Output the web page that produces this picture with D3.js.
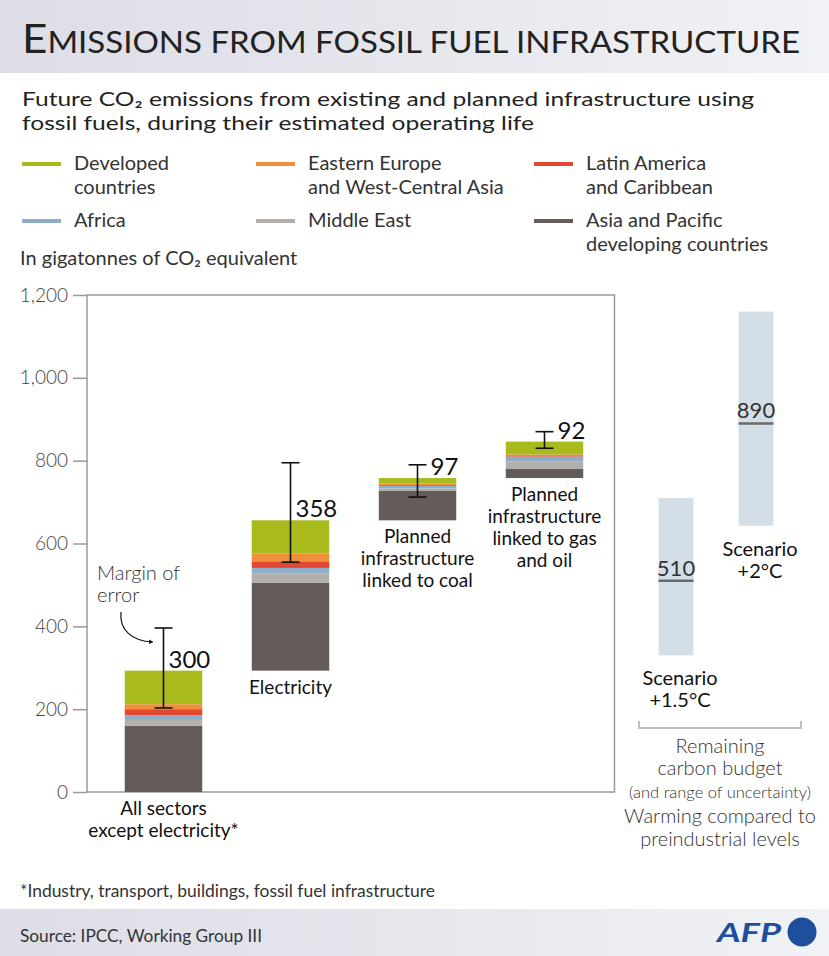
<!DOCTYPE html>
<html>
<head>
<meta charset="utf-8">
<script src="https://cdn.jsdelivr.net/npm/d3@7"></script>
<style>
  body { margin: 0; background: #fff; }
  text { font-family: Lato, "Noto Sans", sans-serif; }
</style>
</head>
<body>
<script>
// bars, bottom to top of each stack
const categories = ["All sectors except electricity*", "Electricity", "Planned infrastructure linked to coal", "Planned infrastructure linked to gas and oil"];
const categoryLines = [["All sectors", "except electricity*"], ["Electricity"], ["Planned", "infrastructure", "linked to coal"], ["Planned", "infrastructure", "linked to gas", "and oil"]];
const regions = ["Asia and Pacific developing countries", "Middle East", "Africa", "Latin America and Caribbean", "Eastern Europe and West-Central Asia", "Developed countries"];

const asiaPacific = [160, 212, 72, 23];
const middleEast = [14, 22, 5, 17];
const africa = [12, 14, 6, 12];
const latinAmerica = [14, 16, 2, 3];
const easternEurope = [12, 19, 4, 2];
const developed = [81, 80, 13, 31];

const totals = [300, 358, 97, 92];
const errorLow = [203, 555, 712, 830];
const errorHigh = [396, 795, 790, 870];

// remaining carbon budget
const scenarios = ["+1.5°C", "+2°C"];
const budgetMedian = [510, 890];
const budgetLow = [330, 643];
const budgetHigh = [710, 1160];

const yTicks = [0, 200, 400, 600, 800, 1000, 1200];

const regionColors = ["#635c58", "#b3afab", "#8fadc9", "#e2482f", "#ef8f3b", "#a9ba1c"];
const legendOrder = [5, 4, 3, 2, 1, 0];
const legendLines = {
  5: ["Developed", "countries"],
  4: ["Eastern Europe", "and West-Central Asia"],
  3: ["Latin America", "and Caribbean"],
  2: ["Africa"],
  1: ["Middle East"],
  0: ["Asia and Pacific", "developing countries"]
};

const W = 829, H = 956;
const svg = d3.select('body').append('svg').attr('width', W).attr('height', H);

const defs = svg.append('defs');
const grad = defs.append('linearGradient').attr('id', 'band').attr('x1', 0).attr('x2', 1);
grad.append('stop').attr('offset', 0).attr('stop-color', '#dcdde6');
grad.append('stop').attr('offset', 1).attr('stop-color', '#f1f2f5');
defs.append('marker').attr('id', 'arrow').attr('viewBox', '0 0 10 10')
  .attr('refX', 8).attr('refY', 5).attr('markerWidth', 4).attr('markerHeight', 4)
  .attr('orient', 'auto')
  .append('path').attr('d', 'M0,0 L10,5 L0,10 z').attr('fill', '#111');

// header
svg.append('rect').attr('x', 0).attr('y', 0).attr('width', W).attr('height', 73).attr('fill', 'url(#band)');
const title = svg.append('text').attr('x', 22).attr('y', 53).attr('fill', '#222')
  .attr('textLength', 778).attr('lengthAdjust', 'spacingAndGlyphs');
title.append('tspan').attr('font-size', 40).text('E');
title.append('tspan').attr('font-size', 30).text('MISSIONS FROM FOSSIL FUEL INFRASTRUCTURE');

const subtitle = svg.append('text').attr('font-size', 20).attr('fill', '#222');
subtitle.append('tspan').attr('x', 22).attr('y', 106)
  .attr('textLength', 732).attr('lengthAdjust', 'spacingAndGlyphs')
  .text('Future CO₂ emissions from existing and planned infrastructure using');
subtitle.append('tspan').attr('x', 22).attr('y', 130)
  .attr('textLength', 512).attr('lengthAdjust', 'spacingAndGlyphs')
  .text('fossil fuels, during their estimated operating life');

// legend
const legendX = [22, 256, 534];
const legendY = [170, 227];
legendOrder.forEach((r, i) => {
  const col = i % 3, row = Math.floor(i / 3);
  const g = svg.append('g').attr('transform', `translate(${legendX[col]},${legendY[row]})`);
  g.append('line').attr('x1', 0).attr('x2', 39).attr('y1', -6).attr('y2', -6)
    .attr('stroke', regionColors[r]).attr('stroke-width', 4);
  g.append('text').attr('x', 52).attr('font-size', 20).attr('fill', '#333')
    .selectAll('tspan').data(legendLines[r]).enter().append('tspan')
    .attr('x', 52).attr('dy', (d, j) => j === 0 ? 0 : 24).text(d => d);
});

svg.append('text').attr('x', 20).attr('y', 265).attr('font-size', 20).attr('fill', '#333')
  .text('In gigatonnes of CO₂ equivalent');

// scales
const y = d3.scaleLinear().domain([0, 1200]).range([792, 295]);
const x = d3.scaleBand().domain(categories).range([100, 608]).paddingInner(0.39).paddingOuter(0.195);
const xs = d3.scalePoint().domain(scenarios).range([676, 756]);

// frame + axis
svg.append('rect').attr('x', 87).attr('y', y(1200)).attr('width', 614.5 - 87).attr('height', y(0) - y(1200))
  .attr('fill', 'none').attr('stroke', '#9a9a9a').attr('stroke-width', 1.5);

const yAxis = svg.append('g').attr('transform', 'translate(87,0)')
  .call(d3.axisLeft(y).tickValues(yTicks).tickSize(14).tickPadding(5).tickFormat(d3.format(',')));
yAxis.select('.domain').remove();
yAxis.selectAll('.tick line').attr('stroke', '#9a9a9a').attr('stroke-width', 1.5);
yAxis.selectAll('.tick text').attr('font-family', 'Lato, sans-serif').attr('font-size', 19)
  .attr('font-weight', 300).attr('fill', '#444');

// stacked waterfall
const series = [asiaPacific, middleEast, africa, latinAmerica, easternEurope, developed];
const barSums = categories.map((c, i) => d3.sum(series, s => s[i]));
const starts = barSums.map((d, i) => d3.sum(barSums.slice(0, i)));

const segs = [];
categories.forEach((c, i) => {
  let base = starts[i];
  series.forEach((s, r) => {
    segs.push({ cat: c, r: r, y0: base, y1: base + s[i] });
    base += s[i];
  });
});

svg.append('g').selectAll('rect')
  .data(segs)
  .enter().append('rect')
  .attr('x', d => x(d.cat))
  .attr('width', x.bandwidth())
  .attr('y', d => y(d.y1))
  .attr('height', d => y(d.y0) - y(d.y1))
  .attr('fill', d => regionColors[d.r]);

// category labels
categories.forEach((c, i) => {
  svg.append('text').attr('text-anchor', 'middle').attr('font-size', 19).attr('fill', '#111')
    .selectAll('tspan').data(categoryLines[i]).enter().append('tspan')
    .attr('x', x(c) + x.bandwidth() / 2)
    .attr('y', (d, j) => y(starts[i]) + 23 + j * 22)
    .text(d => d);
});

// error bars
const capW = 18;
const err = svg.append('g').attr('stroke', '#111').attr('stroke-width', 1.6);
categories.forEach((c, i) => {
  const cx = x(c) + x.bandwidth() / 2;
  err.append('line').attr('x1', cx).attr('x2', cx).attr('y1', y(errorLow[i])).attr('y2', y(errorHigh[i]));
  err.append('line').attr('x1', cx - capW / 2).attr('x2', cx + capW / 2).attr('y1', y(errorLow[i])).attr('y2', y(errorLow[i]));
  err.append('line').attr('x1', cx - capW / 2).attr('x2', cx + capW / 2).attr('y1', y(errorHigh[i])).attr('y2', y(errorHigh[i]));

  const ty = y(barSums[i] + starts[i]) - 3;
  const besideCap = ty - 17 < y(errorHigh[i]);
  svg.append('text').attr('x', cx + (besideCap ? capW / 2 + 4 : 5)).attr('y', ty)
    .attr('font-size', 24).attr('fill', '#111').text(totals[i]);
});

// margin of error annotation
const note = svg.append('text').attr('font-size', 20).attr('font-weight', 300).attr('fill', '#333');
note.append('tspan').attr('x', 97).attr('y', 580).text('Margin of');
note.append('tspan').attr('x', 97).attr('y', 602).text('error');
const ax = x(categories[0]) + x.bandwidth() / 2;
svg.append('path')
  .attr('d', `M121,612 C119,630 132,641 ${ax - 11},${y(errorHigh[0]) + 14}`)
  .attr('fill', 'none').attr('stroke', '#111').attr('stroke-width', 1.2)
  .attr('marker-end', 'url(#arrow)');

// carbon budget bars
const bw = 35;
scenarios.forEach((s, i) => {
  const cx = xs(s);
  svg.append('rect').attr('x', cx - bw / 2).attr('width', bw)
    .attr('y', y(budgetHigh[i])).attr('height', y(budgetLow[i]) - y(budgetHigh[i]))
    .attr('fill', '#d3dee6');
  svg.append('line').attr('x1', cx - bw / 2).attr('x2', cx + bw / 2)
    .attr('y1', y(budgetMedian[i])).attr('y2', y(budgetMedian[i]))
    .attr('stroke', '#6a6a6a').attr('stroke-width', 2.5);
  svg.append('text').attr('x', cx).attr('y', y(budgetMedian[i]) - 5).attr('text-anchor', 'middle')
    .attr('font-size', 22).attr('fill', '#333').text(budgetMedian[i]);
  const lab = svg.append('text').attr('text-anchor', 'middle').attr('font-size', 20).attr('fill', '#111');
  lab.append('tspan').attr('x', cx + 4).attr('y', y(budgetLow[i]) + 30).text('Scenario');
  lab.append('tspan').attr('x', cx + 4).attr('y', y(budgetLow[i]) + 52).text(s);
});

svg.append('path').attr('d', 'M639,721 V728 H801 V721')
  .attr('fill', 'none').attr('stroke', '#aaa').attr('stroke-width', 1.5);
const rb = svg.append('text').attr('text-anchor', 'middle').attr('fill', '#333').attr('font-weight', 300);
rb.append('tspan').attr('x', 720).attr('y', 753).attr('font-size', 20).text('Remaining');
rb.append('tspan').attr('x', 720).attr('y', 775).attr('font-size', 20).text('carbon budget');
rb.append('tspan').attr('x', 720).attr('y', 798).attr('font-size', 16.5).text('(and range of uncertainty)');
rb.append('tspan').attr('x', 720).attr('y', 823).attr('font-size', 20).text('Warming compared to');
rb.append('tspan').attr('x', 720).attr('y', 846).attr('font-size', 20).text('preindustrial levels');

// footer
svg.append('text').attr('x', 20).attr('y', 897).attr('font-size', 17).attr('fill', '#333')
  .attr('textLength', 415).attr('lengthAdjust', 'spacingAndGlyphs')
  .text('*Industry, transport, buildings, fossil fuel infrastructure');
svg.append('rect').attr('x', 0).attr('y', 909).attr('width', W).attr('height', H - 909).attr('fill', 'url(#band)');
svg.append('text').attr('x', 20).attr('y', 942).attr('font-size', 17).attr('fill', '#333')
  .attr('textLength', 242).attr('lengthAdjust', 'spacingAndGlyphs')
  .text('Source: IPCC, Working Group III');
svg.append('text').attr('x', 717).attr('y', 942).attr('font-family', '"Liberation Sans", sans-serif')
  .attr('font-size', 26).attr('font-weight', 'bold').attr('font-style', 'italic').attr('fill', '#1d4f9c')
  .attr('textLength', 64).attr('lengthAdjust', 'spacingAndGlyphs').text('AFP');
svg.append('circle').attr('cx', 802).attr('cy', 932).attr('r', 14.5).attr('fill', '#1d4f9c');
</script>
</body>
</html>
